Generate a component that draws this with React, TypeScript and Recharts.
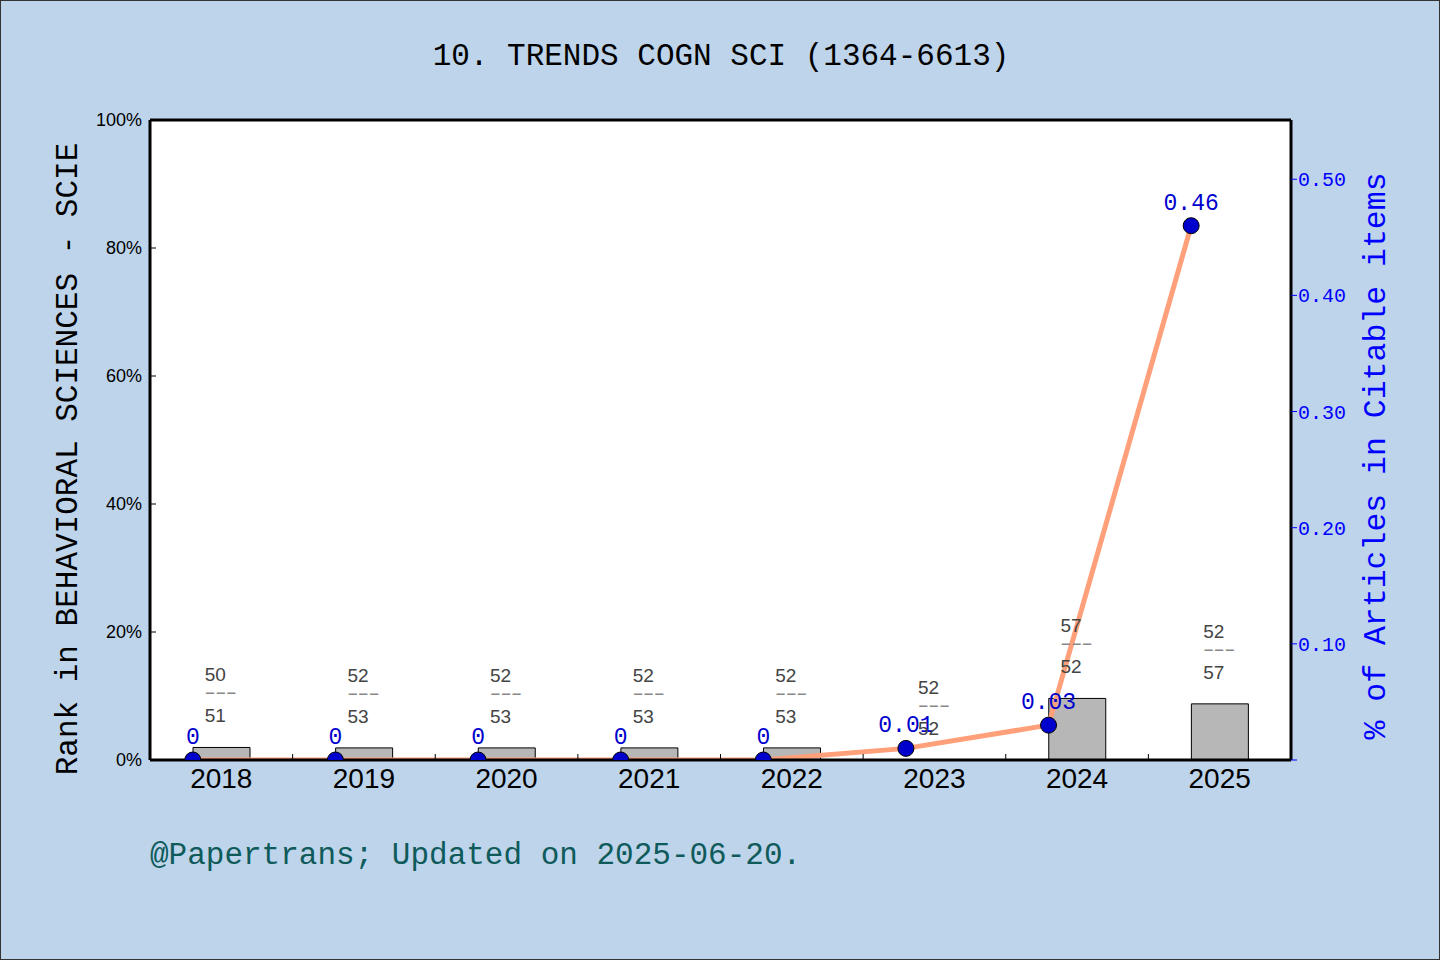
import React from "react";
import {
  ComposedChart,
  Bar,
  Line,
  XAxis,
  YAxis,
  CartesianGrid,
  LabelList,
} from "recharts";

const years = [2018, 2019, 2020, 2021, 2022, 2023, 2024, 2025];
// bar height = share of journals ranked below (left axis, %)
const rankPct = [1.96, 1.89, 1.89, 1.89, 1.89, 0, 9.62, 8.77];
const rankTop = ["50", "52", "52", "52", "52", "52", "57", "52"];
const rankBottom = ["51", "53", "53", "53", "53", "52", "52", "57"];
// % of articles in citable items (right axis)
const citable = [0, 0, 0, 0, 0, 0.01, 0.03, 0.46];

const leftTicks = [0, 20, 40, 60, 80, 100];
const rightTicks = [0, 0.1, 0.2, 0.3, 0.4, 0.5];

const data = years.map((y, i) => ({
  year: y,
  rank: rankPct[i],
  top: rankTop[i],
  bottom: rankBottom[i],
  citable: citable[i],
}));

const BG = "#BDD4EB";
const BLUE = "#0000FF";
const MONO = "'Liberation Mono', 'DejaVu Sans Mono', monospace";
const SANS = "'Liberation Sans', Arial, sans-serif";

// drawn from an invisible series whose points sit on the bars' top-left corners
function RankLabel(props: any) {
  const { x, y, index } = props;
  const d = data[index];
  if (!d) return null;
  const tx = x + 12;
  return (
    <g>
      <text x={tx} y={y - 73} dy="0.35em" fill="#444" fontFamily={SANS} fontSize={19}>{d.top}</text>
      <text
        x={tx}
        y={y - 54}
        dy="0.3em"
        fill="#888"
        fontFamily={SANS}
        fontSize={13}
        fontWeight="bold"
        textLength={32}
        lengthAdjust="spacingAndGlyphs"
      >
        ---
      </text>
      <text x={tx} y={y - 32} dy="0.35em" fill="#444" fontFamily={SANS} fontSize={19}>{d.bottom}</text>
    </g>
  );
}

function ValueLabel(props: any) {
  const { x, y, value } = props;
  return (
    <text x={x} y={y - 24} dy="0.35em" textAnchor="middle" fill="#0000CD" fontFamily={MONO} fontSize={23}>
      {String(value)}
    </text>
  );
}

// year label at the band centre, small inward tick at the band's left edge
function YearTick(props: any) {
  const { x, y, payload, index } = props;
  const half = payload?.offset ?? 0;
  return (
    <g>
      {index > 0 && half > 0 && (
        <line x1={x - half} x2={x - half} y1={y} y2={y - 6} stroke="#000" strokeWidth={1} />
      )}
      <text x={x} y={y + 28} textAnchor="middle" fill="#000" fontFamily={SANS} fontSize={28}>
        {payload.value}
      </text>
    </g>
  );
}

export default function App() {
  return (
    <div
      style={{
        position: "fixed",
        left: 0,
        top: 0,
        width: 1440,
        height: 960,
        background: BG,
        boxSizing: "border-box",
        border: "1px solid #333",
        overflow: "hidden",
      }}
    >
      <div
        style={{
          position: "absolute",
          left: 0,
          top: 36,
          width: 1440,
          textAlign: "center",
          fontFamily: MONO,
          fontSize: 31,
          lineHeight: "40px",
          color: "#000",
        }}
      >
        10. TRENDS COGN SCI (1364-6613)
      </div>

      <div style={{ position: "absolute", left: -1, top: -1 }}>
        <ComposedChart
          width={1440}
          height={960}
          data={data}
          margin={{ top: 119, left: 90, right: 49, bottom: 160 }}
        >
          <CartesianGrid horizontal={false} vertical={false} fill="#fff" />
          <XAxis
            xAxisId="top"
            orientation="top"
            dataKey="year"
            height={1}
            tick={false}
            tickLine={false}
            axisLine={{ stroke: "#000", strokeWidth: 3 }}
          />
          <XAxis
            xAxisId="cat"
            dataKey="year"
            height={40}
            tickLine={false}
            tickSize={0}
            tickMargin={0}
            axisLine={{ stroke: "#000", strokeWidth: 3 }}
            tick={<YearTick />}
            interval={0}
          />
          <XAxis
            xAxisId="num"
            type="number"
            dataKey="year"
            domain={[2017.7, 2025.7]}
            allowDataOverflow
            hide
          />
          <YAxis
            yAxisId="left"
            width={60}
            domain={[0, 100]}
            ticks={leftTicks}
            tickFormatter={(v: number) => `${v}%`}
            tick={{ fontSize: 18, fill: "#000", fontFamily: SANS }}
            tickSize={-6}
            tickMargin={14}
            tickLine={{ stroke: "#000" }}
            axisLine={{ stroke: "#000", strokeWidth: 3 }}
          />
          <YAxis
            yAxisId="right"
            orientation="right"
            width={100}
            domain={[0, 0.551]}
            ticks={rightTicks}
            allowDataOverflow
            tickFormatter={(v: number) => (v === 0 ? "" : v.toFixed(2))}
            tick={{ fontSize: 20, fill: BLUE, fontFamily: MONO, textAnchor: "start" }}
            tickLine={{ stroke: BLUE }}
            tickSize={6}
            tickMargin={1}
            axisLine={{ stroke: "#000", strokeWidth: 3 }}
          />
          <Line
            xAxisId="num"
            yAxisId="right"
            dataKey="citable"
            type="linear"
            stroke="#FFA07A"
            strokeWidth={5}
            dot={{ r: 8, fill: "#0000CD", stroke: "#000", strokeWidth: 1 }}
            activeDot={false}
            isAnimationActive={false}
          >
            <LabelList dataKey="citable" content={<ValueLabel />} />
          </Line>
          <Bar
            xAxisId="cat"
            yAxisId="left"
            dataKey="rank"
            barSize={57}
            fill="#999999"
            fillOpacity={0.7}
            stroke="#000"
            strokeWidth={1}
            isAnimationActive={false}
          />
          <Line
            xAxisId="num"
            yAxisId="left"
            dataKey="rank"
            stroke="none"
            dot={false}
            activeDot={false}
            legendType="none"
            isAnimationActive={false}
          >
            <LabelList dataKey="rank" content={<RankLabel />} />
          </Line>
        </ComposedChart>
      </div>

      <div
        style={{
          position: "absolute",
          left: 67,
          top: 458,
          transform: "translate(-50%, -50%) rotate(-90deg)",
          whiteSpace: "nowrap",
          fontFamily: MONO,
          fontSize: 31,
          color: "#000",
        }}
      >
        Rank in BEHAVIORAL SCIENCES - SCIE
      </div>
      <div
        style={{
          position: "absolute",
          left: 1375,
          top: 455,
          transform: "translate(-50%, -50%) rotate(-90deg)",
          whiteSpace: "nowrap",
          fontFamily: MONO,
          fontSize: 31.5,
          color: BLUE,
        }}
      >
        % of Articles in Citable items
      </div>
      <div
        style={{
          position: "absolute",
          left: 149,
          top: 835,
          fontFamily: MONO,
          fontSize: 31,
          lineHeight: "40px",
          color: "#0F5A5A",
          whiteSpace: "nowrap",
        }}
      >
        @Papertrans; Updated on 2025-06-20.
      </div>
    </div>
  );
}
